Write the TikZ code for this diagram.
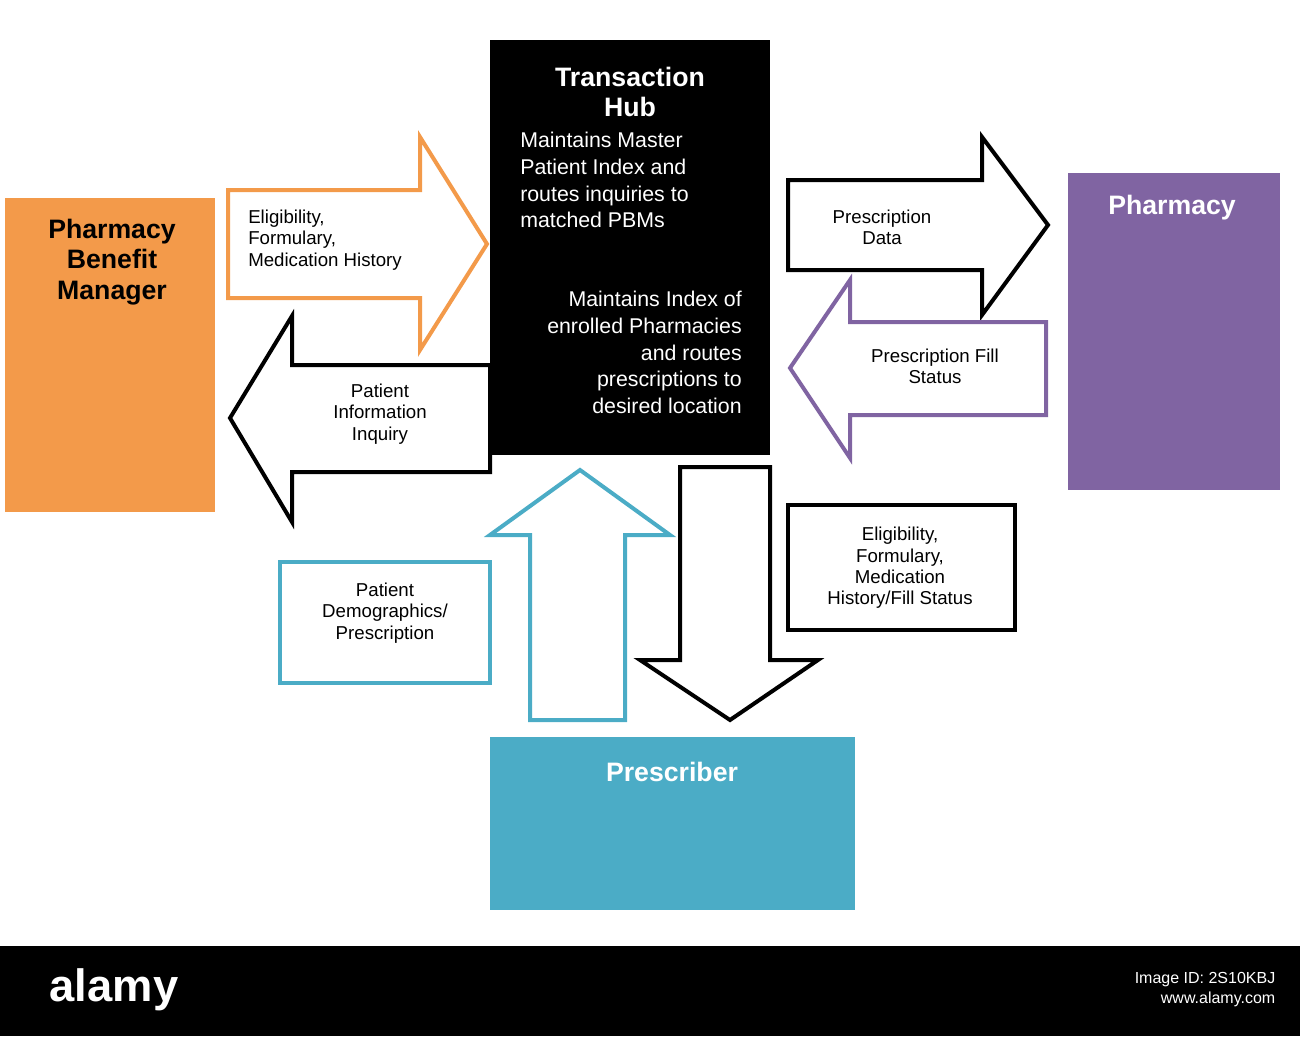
\documentclass[tikz,border=0pt]{standalone}
\usepackage{fontspec}
\setmainfont{Liberation Sans}
\begin{document}
\begin{tikzpicture}[x=0.75pt,y=-0.75pt,
  lbl/.style={font=\fontsize{14}{16}\selectfont,align=center,inner sep=0pt},
  ttl/.style={font=\bfseries\fontsize{20}{23}\selectfont,align=center,inner sep=0pt},
  arr/.style={line width=3pt,fill=white,line join=miter}]
\useasboundingbox (0,0) rectangle (1300,1036);
\definecolor{orng}{HTML}{F39A4A}
\definecolor{purp}{HTML}{8064A2}
\definecolor{teal}{HTML}{4BACC6}
% boxes
\fill[orng] (5,198) rectangle (215,512);
\node[ttl] (pbm) at (112,262) {Pharmacy\\Benefit\\Manager};
\fill[black] (490,40) rectangle (770,455);
\node[ttl,text=white] (hub) at (630,92) {Transaction\\Hub};
\node[lbl,text=white,align=left,font=\fontsize{16}{20}\selectfont,anchor=north west] (hubt1) at (520,132) {Maintains Master\\Patient Index and\\routes inquiries to\\matched PBMs};
\node[lbl,text=white,align=right,font=\fontsize{16}{20}\selectfont,anchor=north east] (hubt2) at (742,291) {Maintains Index of\\enrolled Pharmacies\\and routes\\prescriptions to\\desired location};
\fill[purp] (1068,173) rectangle (1280,490);
\node[ttl,text=white] (ph) at (1172,208) {Pharmacy};
\fill[teal] (490,737) rectangle (855,910);
\node[ttl,text=white] (pr) at (672,772) {Prescriber};
% arrows
\draw[arr,draw=orng] (228,190) -- (420,190) -- (420,137) -- (487,244) -- (420,350) -- (420,298) -- (228,298) -- cycle;
\node[lbl,align=left,anchor=west] (a1) at (248,240) {Eligibility,\\Formulary,\\Medication History};
\draw[arr] (490,365) -- (292,365) -- (292,316) -- (230,418) -- (292,522) -- (292,472) -- (490,472) -- cycle;
\node[lbl] (a2) at (380,414) {Patient\\Information\\Inquiry};
\draw[arr] (788,180) -- (982,180) -- (982,137) -- (1048,225) -- (982,315) -- (982,270) -- (788,270) -- cycle;
\node[lbl] (a3) at (882,227) {Prescription\\Data};
\draw[arr,draw=purp] (1046,322) -- (850,322) -- (850,280) -- (790,368) -- (850,458) -- (850,415) -- (1046,415) -- cycle;
\node[lbl] (a4) at (935,366) {Prescription Fill\\Status};
\draw[arr,draw=teal] (530,720) -- (530,535) -- (490,535) -- (580,470) -- (670,535) -- (625,535) -- (625,720) -- cycle;
\draw[arr] (680,467) -- (680,660) -- (640,660) -- (730,720) -- (818,660) -- (770,660) -- (770,467) -- cycle;
\draw[line width=3pt,draw=teal] (280,562) rectangle (490,683);
\node[lbl] (b1) at (385,613) {Patient\\Demographics/\\Prescription};
\draw[line width=3pt] (788,505) rectangle (1015,630);
\node[lbl] (b2) at (900,568) {Eligibility,\\Formulary,\\Medication\\History/Fill Status};
% bottom bar
\fill[black] (0,946) rectangle (1300,1036);
\node[text=white,font=\bfseries\fontsize{34}{36}\selectfont,anchor=west] (al) at (45,990) {alamy};
\node[text=white,font=\fontsize{12}{15}\selectfont,align=right,anchor=east] (id) at (1280,990) {Image ID: 2S10KBJ\\www.alamy.com};
\end{tikzpicture}
\end{document}
